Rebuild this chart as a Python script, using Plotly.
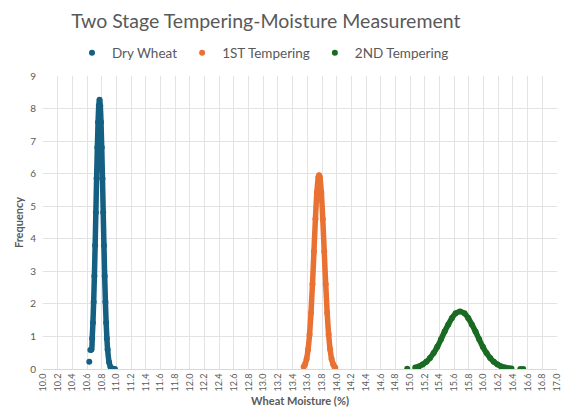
import plotly.graph_objects as go

# ---- data ----
dry_x = [10.63, 10.645, 10.66, 10.67, 10.68, 10.69, 10.70, 10.71, 10.72, 10.73, 10.74, 10.75, 10.76, 10.77,
         10.78, 10.79, 10.80, 10.81, 10.82, 10.83, 10.84, 10.85, 10.86, 10.87, 10.88, 10.90, 10.92, 10.95, 10.98]
dry_y = [0.22, 0.58, 0.60, 0.94, 1.42, 2.06, 2.86, 3.79, 4.81, 5.85, 6.80, 7.58, 8.09, 8.27,
         8.09, 7.58, 6.80, 5.85, 4.81, 3.79, 2.86, 2.06, 1.42, 0.94, 0.60, 0.21, 0.06, 0.01, 0.0]

t1_x = [13.55, 13.57, 13.59, 13.61, 13.63, 13.65, 13.67, 13.69, 13.71, 13.73, 13.75, 13.76,
        13.77, 13.79, 13.81, 13.83, 13.85, 13.87, 13.89, 13.91, 13.93, 13.95, 13.97, 13.98]
t1_y = [0.07, 0.15, 0.31, 0.60, 1.06, 1.73, 2.60, 3.61, 4.61, 5.43, 5.89, 5.95,
        5.89, 5.43, 4.61, 3.61, 2.60, 1.73, 1.06, 0.60, 0.31, 0.15, 0.07, 0.04]

t2_x = [14.96, 15.07, 15.12, 15.17, 15.22, 15.27, 15.32, 15.37, 15.42, 15.47, 15.52, 15.57, 15.62, 15.68,
        15.74, 15.79, 15.84, 15.89, 15.94, 15.99, 16.04, 16.09, 16.14, 16.19, 16.24, 16.29, 16.34, 16.38,
        16.50, 16.54]
t2_y = [0.01, 0.045, 0.08, 0.14, 0.22, 0.34, 0.49, 0.68, 0.91, 1.15, 1.37, 1.57, 1.71, 1.77,
        1.71, 1.57, 1.37, 1.15, 0.91, 0.68, 0.49, 0.34, 0.22, 0.14, 0.08, 0.045, 0.024, 0.015,
        0.002, 0.001]

series_names = ["Dry Wheat", "1ST Tempering", "2ND Tempering"]
series_colors = ["#156082", "#E97132", "#196B24"]
x_ticks = [round(10 + 0.2 * i, 1) for i in range(36)]
x_tick_text = [f"{v:.1f}" for v in x_ticks]
y_ticks = list(range(0, 10))

# where the continuous part of each curve starts/ends (isolated end dots are markers only)
line_slices = [(1, len(dry_x)), (0, len(t1_x)), (1, len(t2_x) - 2)]

fig = go.Figure()
for (xs, ys), name, color, (a, b) in zip([(dry_x, dry_y), (t1_x, t1_y), (t2_x, t2_y)],
                                         series_names, series_colors, line_slices):
    fig.add_trace(go.Scatter(x=xs[a:b], y=ys[a:b], mode="lines", line=dict(color=color, width=5.5, shape="spline"),
                             showlegend=False, legendgroup=name, hoverinfo="skip"))
    fig.add_trace(go.Scatter(x=xs, y=ys, mode="markers", name=name, legendgroup=name,
                             marker=dict(color=color, size=6)))

gray = "#595959"
fig.update_layout(
    width=568, height=412,
    margin=dict(l=42.5, r=11, t=76, b=43, autoexpand=False),
    paper_bgcolor="white", plot_bgcolor="white",
    font=dict(family="Lato, Open Sans, sans-serif", color=gray),
    title=dict(text="Two Stage Tempering-Moisture Measurement", x=0.468, xanchor="center",
               y=1 - 21 / 412, yanchor="middle", font=dict(size=19.5, color=gray)),
    legend=dict(orientation="h", x=0.428, xanchor="center", y=1 - 53 / 412, yref="container", yanchor="middle",
                font=dict(size=13.5, color=gray), itemwidth=30,
                tracegroupgap=0, bgcolor="rgba(0,0,0,0)"),
    xaxis=dict(range=[10, 17], tickmode="array", tickvals=x_ticks, ticktext=x_tick_text,
               tickangle=-90, tickfont=dict(size=9, color=gray), automargin=False,
               showgrid=True, gridcolor="#e3e3e3", gridwidth=1, zeroline=False,
               showline=True, linecolor="#d9d9d9", ticks="",
               title=dict(text="<b>Wheat Moisture (%)</b>", font=dict(size=11, color=gray), standoff=6)),
    yaxis=dict(range=[0, 9], tickmode="array", tickvals=y_ticks, tickfont=dict(size=10, color=gray),
               showgrid=True, gridcolor="#e3e3e3", gridwidth=1, zeroline=False, ticks="", automargin=False,
               ticklabelstandoff=6,
               title=dict(text="<b>Frequency</b>", font=dict(size=11, color=gray), standoff=4)),
)

fig.write_html("out.html", config={"displayModeBar": False},
               post_script="document.body.style.margin='0';")
